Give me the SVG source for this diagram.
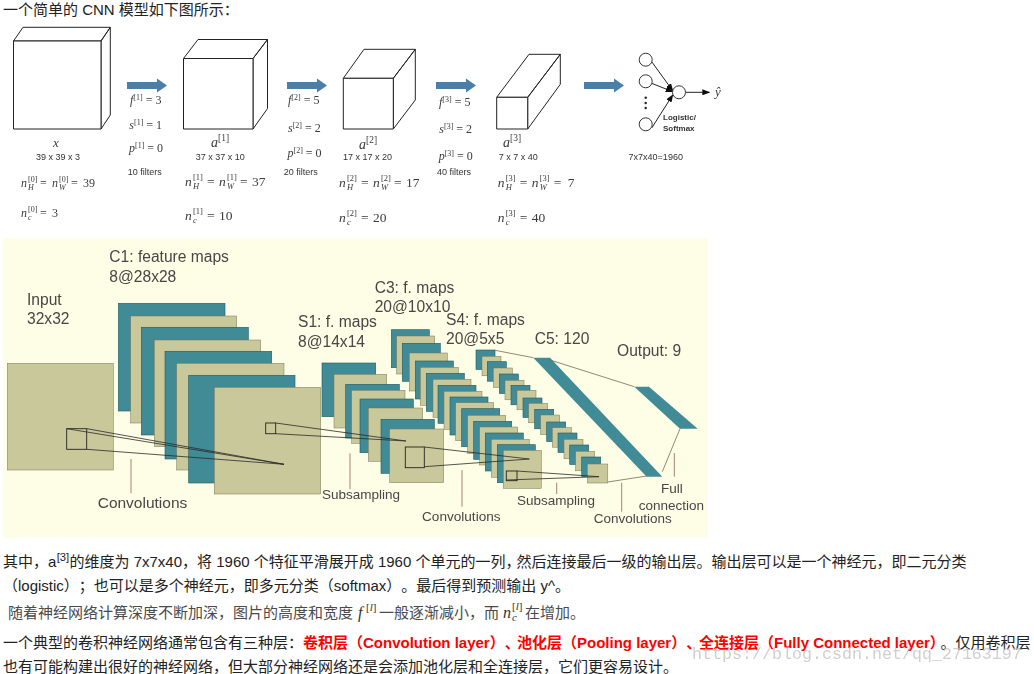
<svg xmlns="http://www.w3.org/2000/svg" width="1034" height="674" viewBox="0 0 1034 674">
<style>
text{font-family:"Liberation Sans","Noto Sans CJK SC",sans-serif;white-space:pre;text-spacing-trim:space-all}
.p{font-size:15px;fill:#222}
.g{fill:#4a4a4a}
.r{fill:#f00;font-weight:bold}
.wm{font-family:"Liberation Mono",monospace;font-size:16.67px;fill:#bbb;opacity:.7}
.cube{fill:#fff;stroke:#222;stroke-width:1;stroke-linejoin:round}
.arrow{fill:#4a7fa9}
.cap{font-size:9px;fill:#333}
.m{font-family:"Liberation Serif",serif;font-size:12px;fill:#3a3a3a}
.m2{font-size:13.5px}
.i{font-style:italic}
.s{font-size:8px}
.bold{font-size:8px;font-weight:bold;fill:#333}
.nn{fill:#fff;stroke:#333;stroke-width:1}
.w{stroke:#222;stroke-width:1;fill:none}
.t{fill:#3f8b96;stroke:#1f5a60;stroke-width:.6}
.c{fill:#c9c89b;stroke:#77765a;stroke-width:.5}
.lb{fill:#474747}
.l1{font-size:15.6px}
.l2{font-size:13.5px}
.fine{fill:none;stroke:#2a2a2a;stroke-width:.8}
.box{fill:none;stroke:#222;stroke-width:.9}
.tick{stroke:#a5836f;stroke-width:1}
.grey{stroke:#6f6f55;stroke-width:.8;fill:none}
</style>
<defs>
<filter id="soft" x="-5%" y="-5%" width="110%" height="110%"><feGaussianBlur stdDeviation="0.4"/></filter>
<path id="arr" d="M0 3.500H30V0L40 7L30 14V10.500H0Z"/>
<marker id="head" viewBox="0 0 8 6" refX="7" refY="3" markerWidth="8" markerHeight="6" markerUnits="userSpaceOnUse" orient="auto"><path d="M0 0L8 3L0 6Z" fill="#111"/></marker>
</defs>
<rect width="1034" height="674" fill="#fff"/>
<text id="title" class="p" x="3" y="15">一个简单的 CNN 模型如下图所示：</text>

<g id="figure-1" filter="url(#soft)">
<g id="cube-x">
<path class="cube" d="M13.500 41L23 27.300H110.300L101 41ZM101 41L110.300 27.300V115L101 129Z"/><rect class="cube" x="13.500" y="41" width="87.500" height="88"/>
<text class="m i" x="53" y="147" style="font-size:13px">x</text>
<text class="cap" x="36" y="160">39 x 39 x 3</text>
<g transform="translate(21,186.700)"><text class="m"><tspan class="i">n</tspan><tspan class="s" x="7" y="-5">[0]</tspan><tspan class="s i" x="7" y="3">H</tspan><tspan x="19" y="0">=</tspan><tspan class="i" x="31">n</tspan><tspan class="s" x="38" y="-5">[0]</tspan><tspan class="s i" x="38" y="3">W</tspan><tspan x="50" y="0">=</tspan><tspan x="62">39</tspan></text></g>
<g transform="translate(21,216.700)"><text class="m"><tspan class="i">n</tspan><tspan class="s" x="7" y="-5">[0]</tspan><tspan class="s i" x="7" y="3">c</tspan><tspan x="19" y="0">=</tspan><tspan x="31">3</tspan></text></g>
</g>
<g id="step-1">
<use href="#arr" class="arrow" x="127" y="78.500"/>
<text class="m" x="130" y="104"><tspan class="i">f</tspan><tspan class="s" dy="-4">[1]</tspan><tspan dy="4"> = 3</tspan></text>
<text class="m" x="129.300" y="129"><tspan class="i">s</tspan><tspan class="s" dy="-4">[1]</tspan><tspan dy="4"> = 1</tspan></text>
<text class="m" x="129" y="151.700"><tspan class="i">p</tspan><tspan class="s" dy="-4">[1]</tspan><tspan dy="4"> = 0</tspan></text>
<text class="cap" x="127.700" y="174.700">10 filters</text>
</g>
<g id="cube-a1">
<path class="cube" d="M183.500 58.500L198 39.500H267.500L253 58.500ZM253 58.500L267.500 39.500V108.500L253 129Z"/><rect class="cube" x="183.500" y="58.500" width="69.500" height="70.500"/>
<text class="m i" x="211" y="147" style="font-size:14px">a<tspan class="s" dy="-6" style="font-style:normal;font-size:9.500px">[1]</tspan></text>
<text class="cap" x="195.700" y="160">37 x 37 x 10</text>
<g transform="translate(185,186)"><text class="m m2"><tspan class="i">n</tspan><tspan class="s" x="8" y="-6" style="font-size:8.500px">[1]</tspan><tspan class="s i" x="8" y="3" style="font-size:8.500px">H</tspan><tspan x="22" y="0">=</tspan><tspan class="i" x="34">n</tspan><tspan class="s" x="42" y="-6" style="font-size:8.500px">[1]</tspan><tspan class="s i" x="42" y="3" style="font-size:8.500px">W</tspan><tspan x="55" y="0">=</tspan><tspan x="67">37</tspan></text></g>
<g transform="translate(185,220)"><text class="m m2"><tspan class="i">n</tspan><tspan class="s" x="8" y="-6" style="font-size:8.500px">[1]</tspan><tspan class="s i" x="8" y="3" style="font-size:8.500px">c</tspan><tspan x="22" y="0">=</tspan><tspan x="34">10</tspan></text></g>
</g>
<g id="step-2">
<use href="#arr" class="arrow" x="287" y="78.500"/>
<text class="m" x="288" y="104"><tspan class="i">f</tspan><tspan class="s" dy="-4">[2]</tspan><tspan dy="4"> = 5</tspan></text>
<text class="m" x="288" y="131.700"><tspan class="i">s</tspan><tspan class="s" dy="-4">[2]</tspan><tspan dy="4"> = 2</tspan></text>
<text class="m" x="287.500" y="157"><tspan class="i">p</tspan><tspan class="s" dy="-4">[2]</tspan><tspan dy="4"> = 0</tspan></text>
<text class="cap" x="283.700" y="174.700">20 filters</text>
</g>
<g id="cube-a2">
<path class="cube" d="M343.300 78.300L364 49.300H415.300L393.300 78.300ZM393.300 78.300L415.300 49.300V100L393.300 129Z"/><rect class="cube" x="343.300" y="78.300" width="50" height="50.700"/>
<text class="m i" x="359" y="149" style="font-size:14px">a<tspan class="s" dy="-6" style="font-style:normal;font-size:9.500px">[2]</tspan></text>
<text class="cap" x="343" y="160">17 x 17 x 20</text>
<g transform="translate(339,187)"><text class="m m2"><tspan class="i">n</tspan><tspan class="s" x="8" y="-6" style="font-size:8.500px">[2]</tspan><tspan class="s i" x="8" y="3" style="font-size:8.500px">H</tspan><tspan x="22" y="0">=</tspan><tspan class="i" x="34">n</tspan><tspan class="s" x="42" y="-6" style="font-size:8.500px">[2]</tspan><tspan class="s i" x="42" y="3" style="font-size:8.500px">W</tspan><tspan x="55" y="0">=</tspan><tspan x="67">17</tspan></text></g>
<g transform="translate(339,222)"><text class="m m2"><tspan class="i">n</tspan><tspan class="s" x="8" y="-6" style="font-size:8.500px">[2]</tspan><tspan class="s i" x="8" y="3" style="font-size:8.500px">c</tspan><tspan x="22" y="0">=</tspan><tspan x="34">20</tspan></text></g>
</g>
<g id="step-3">
<use href="#arr" class="arrow" x="436" y="78.500"/>
<text class="m" x="439" y="105.700"><tspan class="i">f</tspan><tspan class="s" dy="-4">[3]</tspan><tspan dy="4"> = 5</tspan></text>
<text class="m" x="439.300" y="133"><tspan class="i">s</tspan><tspan class="s" dy="-4">[3]</tspan><tspan dy="4"> = 2</tspan></text>
<text class="m" x="438.700" y="160"><tspan class="i">p</tspan><tspan class="s" dy="-4">[3]</tspan><tspan dy="4"> = 0</tspan></text>
<text class="cap" x="437" y="174.700">40 filters</text>
</g>
<g id="cube-a3">
<path class="cube" d="M496.700 97.300L529 54.300H560.300L527.700 97.300ZM527.700 97.300L560.300 54.300V84.300L527.700 129Z"/><rect class="cube" x="496.700" y="97.300" width="31" height="31.700"/>
<text class="m i" x="503" y="147" style="font-size:14px">a<tspan class="s" dy="-6" style="font-style:normal;font-size:9.500px">[3]</tspan></text>
<text class="cap" x="498.700" y="160">7 x 7 x 40</text>
<g transform="translate(497.700,186.700)"><text class="m m2"><tspan class="i">n</tspan><tspan class="s" x="8" y="-6" style="font-size:8.500px">[3]</tspan><tspan class="s i" x="8" y="3" style="font-size:8.500px">H</tspan><tspan x="22" y="0">=</tspan><tspan class="i" x="34">n</tspan><tspan class="s" x="42" y="-6" style="font-size:8.500px">[3]</tspan><tspan class="s i" x="42" y="3" style="font-size:8.500px">W</tspan><tspan x="56" y="0">=</tspan><tspan x="70">7</tspan></text></g>
<g transform="translate(497.700,222)"><text class="m m2"><tspan class="i">n</tspan><tspan class="s" x="8" y="-6" style="font-size:8.500px">[3]</tspan><tspan class="s i" x="8" y="3" style="font-size:8.500px">c</tspan><tspan x="22" y="0">=</tspan><tspan x="34">40</tspan></text></g>
</g>
<use id="step-4" href="#arr" class="arrow" x="584" y="78.500"/>
<g id="neuron-net">
<g id="connectors-1">
<line class="w" x1="651.700" y1="61.700" x2="672.700" y2="90.700" marker-end="url(#head)"/>
<line class="w" x1="651.700" y1="83.300" x2="672.700" y2="91.700" marker-end="url(#head)"/>
<line class="w" x1="651.700" y1="128" x2="672.700" y2="95" marker-end="url(#head)"/>
<line class="w" x1="685.700" y1="92.300" x2="709.300" y2="92.300" marker-end="url(#head)"/>
</g>
<circle class="nn" cx="645.700" cy="59.700" r="6.500"/>
<circle class="nn" cx="645.700" cy="81.300" r="6.500"/>
<circle class="nn" cx="645.700" cy="124.300" r="6.500"/>
<circle class="nn" cx="679" cy="92.300" r="6.500"/>
<circle cx="645.700" cy="97.700" r="1.200" fill="#222"/><circle cx="645.700" cy="103" r="1.200" fill="#222"/><circle cx="645.700" cy="108" r="1.200" fill="#222"/>
<text class="m i" x="715" y="96" style="font-size:13px">ŷ</text>
<text class="bold" x="663" y="120">Logistic/</text>
<text class="bold" x="663" y="131">Softmax</text>
<text class="cap" x="628.600" y="160">7x7x40=1960</text>
</g>
</g>

<g id="figure-2" filter="url(#soft)">
<rect x="3" y="238" width="705" height="299.500" fill="#fefee6"/>
<g id="input"><rect class="c" x="7.300" y="363.300" width="106" height="106.700"/>
<text class="lb l1" x="27" y="305">Input</text><text class="lb l1" x="27" y="323.700">32x32</text></g>
<g id="c1">
<rect class="t" x="118.300" y="303.300" width="106.700" height="107.700"/>
<rect class="c" x="130.700" y="316" width="106" height="107"/>
<rect class="t" x="141.300" y="327.300" width="107" height="107.700"/>
<rect class="c" x="154.300" y="340" width="106.400" height="106.700"/>
<rect class="t" x="165" y="351.300" width="106.700" height="107.700"/>
<rect class="c" x="176.700" y="363.300" width="107.300" height="106.700"/>
<rect class="t" x="188.700" y="375.300" width="106.300" height="107.700"/>
<rect class="c" x="214.300" y="387.300" width="106.400" height="106.700"/>
<text class="lb l1" x="109.300" y="262">C1: feature maps</text><text class="lb l1" x="109.300" y="282">8@28x28</text></g>
<g id="s1">
<rect class="t" x="322" y="363" width="53.700" height="53.700"/>
<rect class="c" x="334" y="374.300" width="52.700" height="53.700"/>
<rect class="t" x="345.700" y="384.300" width="53.600" height="53.700"/>
<rect class="c" x="351.700" y="390.300" width="53.300" height="53"/>
<rect class="t" x="360" y="399" width="53.300" height="53.700"/>
<rect class="c" x="368.300" y="408" width="54.400" height="53.300"/>
<rect class="t" x="381" y="419.300" width="53.300" height="54"/>
<rect class="c" x="389.700" y="429" width="54" height="53.700"/>
<text class="lb l1" x="298" y="327.300">S1: f. maps</text><text class="lb l1" x="298" y="347.300">8@14x14</text></g>
<g id="c3">
<rect class="t" x="391.300" y="329.700" width="38" height="38"/><rect class="c" x="396.700" y="336" width="38" height="38"/><rect class="t" x="402.300" y="343.300" width="38" height="38"/><rect class="c" x="409.300" y="353" width="38" height="38"/><rect class="t" x="415.300" y="361" width="38" height="38"/><rect class="c" x="420.300" y="367.300" width="38" height="38"/><rect class="t" x="426.300" y="373.300" width="38" height="38"/><rect class="c" x="433" y="379.300" width="38" height="38"/><rect class="t" x="438" y="385.300" width="38" height="38"/><rect class="c" x="444" y="391.300" width="38" height="38"/><rect class="t" x="450" y="397" width="38" height="38"/><rect class="c" x="455.700" y="402.700" width="38" height="38"/><rect class="t" x="461.700" y="408.700" width="38" height="38"/><rect class="c" x="467.700" y="415.300" width="38" height="38"/><rect class="t" x="473.700" y="421.300" width="38" height="38"/><rect class="c" x="479.700" y="427" width="38" height="38"/><rect class="t" x="485.300" y="433" width="38" height="38"/><rect class="c" x="491.300" y="439.300" width="38" height="38"/><rect class="t" x="497.300" y="444.700" width="38" height="38"/><rect class="c" x="503.300" y="450.300" width="38" height="38"/>
<text class="lb l1" x="374.700" y="292.700">C3: f. maps</text><text class="lb l1" x="374.700" y="312">20@10x10</text></g>
<g id="s4">
<rect class="t" x="476" y="350" width="19" height="19.500"/><rect class="c" x="482" y="356.300" width="19" height="19.500"/><rect class="t" x="487.300" y="361.700" width="19" height="19.500"/><rect class="c" x="493.300" y="368" width="19" height="19.500"/><rect class="t" x="499.300" y="374" width="19" height="19.500"/><rect class="c" x="505" y="380.300" width="19" height="19.500"/><rect class="t" x="511" y="385.300" width="19" height="19.500"/><rect class="c" x="517" y="390.300" width="19" height="19.500"/><rect class="t" x="523" y="398" width="19" height="19.500"/><rect class="c" x="528.700" y="403.300" width="19" height="19.500"/><rect class="t" x="534.700" y="409.300" width="19" height="19.500"/><rect class="c" x="540.700" y="415" width="19" height="19.500"/><rect class="t" x="546.700" y="422" width="19" height="19.500"/><rect class="c" x="552.300" y="427.700" width="19" height="19.500"/><rect class="t" x="558" y="433" width="19" height="19.500"/><rect class="c" x="564" y="439.300" width="19" height="19.500"/><rect class="t" x="569.700" y="445" width="19" height="19.500"/><rect class="c" x="575.700" y="451.300" width="19" height="19.500"/><rect class="t" x="581.700" y="457" width="19" height="19.500"/><rect class="c" x="587.300" y="464" width="20.500" height="19"/>
<text class="lb l1" x="446" y="325">S4: f. maps</text><text class="lb l1" x="446" y="344">20@5x5</text></g>
<g id="c5"><path d="M533.300 357.700H550L662.300 476.700H646.700Z" fill="#3f8b96"/><text class="lb l1" x="534.700" y="344">C5: 120</text></g>
<g id="output"><path d="M634.300 386.700H649L697.700 428.700H680Z" fill="#3f8b96"/><text class="lb l1" x="617" y="356">Output: 9</text></g>
<g id="connectors-2">
<rect class="box" x="66.700" y="428.700" width="20" height="20.600"/>
<path class="fine" d="M66.700 428.700L284 464.300M87 428.700L284 464.300M86.700 449.300L284 464.300"/>
<rect class="box" x="265.700" y="423" width="10" height="10.700"/>
<path class="fine" d="M275.700 423L406 441M275.700 433.700L406 441"/>
<rect class="box" x="405.300" y="447" width="19" height="20.700"/>
<path class="fine" d="M424.300 447L529.300 459M424.300 466.700L529.300 459"/>
<rect class="box" x="506.300" y="471" width="10.700" height="9.700"/>
<path class="fine" d="M517 471L599 476.700M506.300 480L599 476.700"/>
<path class="grey" d="M495 350.300L533.300 357.700M550 360L634.300 386.700M607.700 482L646.700 476M662.300 471.700L680 428.700"/>
<path class="tick" d="M131 459V493.300M350 453.300V489M462 470.300V506.700M556.700 482.700V494M621.700 482.700V511.700M674.300 453V476.700"/>
</g>
<g id="notes">
<text class="lb" x="97.700" y="508" style="font-size:15.500px">Convolutions</text>
<text class="lb l2" x="322" y="498.700">Subsampling</text>
<text class="lb" x="422" y="520.700" style="font-size:13.600px">Convolutions</text>
<text class="lb l2" x="517" y="505">Subsampling</text>
<text class="lb l2" x="593.700" y="523">Convolutions</text>
<text class="lb l2" x="661" y="493">Full</text>
<text class="lb l2" x="638.700" y="510">connection</text>
</g>
</g>

<g id="body">
<text class="p" x="3" y="567">其中，a</text>
<text class="p" x="56.700" y="560.700" style="font-size:11.250px">[3]</text>
<text class="p" x="69.500" y="567">的维度为 7x7x40，将 1960 个特征平滑展开成 1960 个单元的一列，</text>
<text class="p" x="516.500" y="567">然后连接最后一级的输出层。输出层可以是一个神经元，即二元分类</text>
<text class="p" x="3" y="591">（logistic）；也可以是多个神经元，即多元分类（softmax）。最后得到预测输出 y^。</text>
<text class="p g" x="8" y="617.700">随着神经网络计算深度不断加深，图片的高度和宽度</text>
<text class="m i" x="358" y="617.700" style="font-size:16px;fill:#333">f</text>
<text class="m" x="366" y="611" style="font-size:11px;fill:#333">[<tspan class="i">l</tspan>]</text>
<text class="p g" x="379" y="617.700">一般逐渐减小，而</text>
<text class="m i" x="503" y="617.700" style="font-size:16px;fill:#333">n</text>
<text class="m i" x="512" y="621" style="font-size:11px;fill:#333">c</text>
<text class="m" x="512" y="610" style="font-size:11px;fill:#333">[<tspan class="i">l</tspan>]</text>
<text class="p g" x="525" y="617.700">在增加。</text>
<text class="p" x="3" y="647.700">一个典型的卷积神经网络通常包含有三种层：</text>
<text class="p r" x="303" y="647.700">卷积层（Convolution layer）、</text>
<text class="p r" x="517" y="647.700">池化层（Pooling layer）、</text>
<text class="p r" x="699" y="647.700">全连接层（Fully Connected layer）</text>
<text class="p" x="940.500" y="647.700">。仅用卷积层</text>
<text class="p" x="3" y="671.700">也有可能构建出很好的神经网络，但大部分神经网络还是会添加池化层和全连接层，它们更容易设计。</text>
<text class="wm" x="692" y="659">https://blog.csdn.net/qq_27163197</text>
</g>
</svg>
